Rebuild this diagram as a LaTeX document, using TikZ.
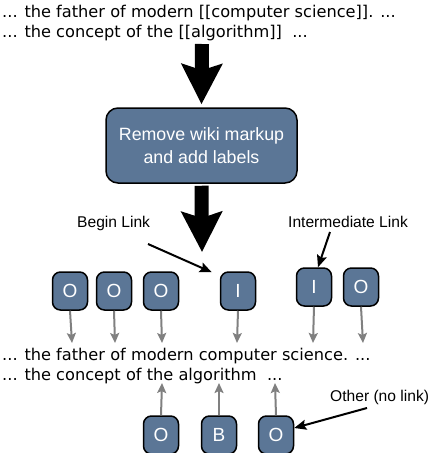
\documentclass[tikz,border=0pt]{standalone}
\usepackage{fontspec}
\setmainfont{DejaVu Sans}
\newfontfamily\helv{Liberation Sans}
\usetikzlibrary{arrows.meta}
\definecolor{nodeblue}{HTML}{5B7696}
\definecolor{arrowgray}{HTML}{808080}
\begin{document}
\begin{tikzpicture}[x=1pt,y=-1pt,
 txt/.style={font=\fontsize{16.2}{20}\selectfont, anchor=base west, inner sep=0pt},
 lab/.style={font=\helv\fontsize{15.6}{18}\selectfont, inner sep=0pt, anchor=west},
 tag/.style={draw=black, line width=1.5pt, fill=nodeblue, rounded corners=8pt, minimum width=35pt, minimum height=38pt, inner sep=0pt, text=white, font=\helv\fontsize{19}{19}\selectfont},
 proc/.style={draw=black, line width=1.5pt, fill=nodeblue, rounded corners=12pt, minimum width=191pt, minimum height=75pt, text=white, align=center, font=\helv\fontsize{17.8}{23}\selectfont},
 big/.style={line width=14pt, -{Stealth[length=40pt,width=40pt,inset=6pt]}},
 garrow/.style={draw=arrowgray, line width=2pt, -{Stealth[length=10pt,width=9pt,inset=2pt]}},
 karrow/.style={line width=2pt, -{Stealth[length=12pt,width=10pt,inset=2pt]}}]
\useasboundingbox (0,0) rectangle (431,453);
\fill[white] (0,0) rectangle (431,453);
% top text
\node[txt] (t1) at (2,17) {... the father of modern [[computer science]]. ...};
\node[txt] (t2) at (2,37) {... the concept of the [[algorithm]] \ ...};
% process box
\node[proc] (box) at (201.5,145.5) {Remove wiki markup\\and add labels};
\coordinate (a1) at (202,44);
\draw[big] (a1) -- ([yshift=3pt]box.north);
\coordinate (a2) at (202,252);
\draw[big] ([yshift=-2pt]box.south) -- (a2);
% labels
\node[lab] (bl) at (77,223) {Begin Link};
\node[lab] (il) at (288,222) {Intermediate Link};
\node[lab] (ol) at (330,397) {Other (no link)};
% top tags
\node[tag] (o1) at (70,291) {O};
\node[tag] (o2) at (114,291) {O};
\node[tag] (o3) at (161,291) {O};
\node[tag] (i1) at (238,291) {I};
\node[tag] (i2) at (314,287) {I};
\node[tag] (o4) at (361,287) {O};
% bottom text
\node[txt] (b1) at (2,360) {... the father of modern computer science. ...};
\node[txt] (b2) at (2,380) {... the concept of the algorithm \ ...};
% bottom tags
\node[tag] (ob1) at (161,435) {O};
\node[tag] (bb) at (219,435) {B};
\node[tag] (ob2) at (276,435) {O};
% gray arrows down
\foreach \n/\x in {o1/72,o2/115,o3/162,i1/237,i2/313,o4/363}{
  \coordinate (d\n) at (\x,343);
  \draw[garrow] (\n.south) -- (d\n);
}
\foreach \n/\x in {ob1/162,bb/219,ob2/275}{
  \coordinate (u\n) at (\x,383);
  \draw[garrow] (\n.north) -- (u\n);
}
% label arrows
\coordinate (bls) at (148,244);
\draw[karrow] (bls) -- ([shift={(-8pt,-1pt)}]i1.north west);
\coordinate (ils) at (330,232);
\draw[karrow] (ils) -- ([xshift=4pt]i2.north);
\coordinate (ols) at (367,408);
\draw[karrow] (ols) -- ([yshift=7pt]ob2.east);
\end{tikzpicture}
\end{document}
